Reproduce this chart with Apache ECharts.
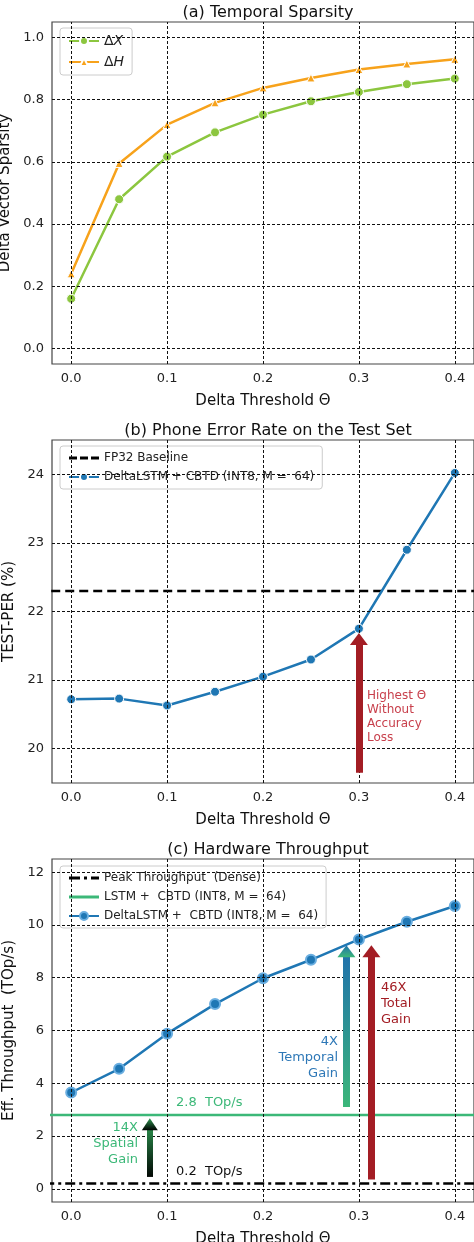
<!DOCTYPE html>
<html><head><meta charset="utf-8">
<script src="https://cdn.jsdelivr.net/npm/echarts@6/dist/echarts.min.js"></script>
<style>html,body{margin:0;padding:0;background:#fff}#c{width:474px;height:1242px}</style>
</head><body><div id="c"></div>
<script>
const thresholds = [0, 0.05, 0.1, 0.15, 0.2, 0.25, 0.3, 0.35, 0.4];
const sparsityX = [0.16, 0.48, 0.617, 0.695, 0.752, 0.795, 0.825, 0.85, 0.868];
const sparsityH = [0.24, 0.595, 0.72, 0.79, 0.838, 0.87, 0.897, 0.915, 0.93];
const testPER = [20.72, 20.73, 20.63, 20.83, 21.05, 21.3, 21.75, 22.9, 24.02];
const throughput = [3.65, 4.55, 5.88, 7.0, 7.98, 8.68, 9.45, 10.12, 10.72];
const fp32Baseline = 22.3;
const lstmThroughput = 2.8;
const peakThroughput = 0.2;

const FONT = 'DejaVu Sans';
const pts = (ys) => thresholds.map((x, i) => [x, ys[i]]);
const flat = (y) => [[-0.05, y], [0.45, y]];

const grids = [
  { left: 52, top: 22, width: 422, height: 342 },
  { left: 52, top: 440, width: 422, height: 343 },
  { left: 52, top: 859, width: 422, height: 343 },
].map((g) => ({ ...g, outerBoundsMode: 'none', containLabel: false, show: true, borderColor: '#444', borderWidth: 1.2, backgroundColor: '#fff' }));

const xAxis = [0, 1, 2].map((i) => ({
  type: 'value', gridIndex: i, min: -0.02, max: 0.42,
  name: 'Delta Threshold Θ', nameLocation: 'middle', nameGap: 30,
  nameTextStyle: { fontSize: 15, color: '#111', fontFamily: FONT },
  axisLine: { show: false }, axisTick: { show: false },
  axisLabel: { fontSize: 13, color: '#222', fontFamily: FONT, formatter: (v) => v.toFixed(1), customValues: [0, 0.1, 0.2, 0.3, 0.4] },
  splitLine: { show: false },
}));
const yCommon = {
  type: 'value', nameLocation: 'middle', nameGap: 34,
  nameTextStyle: { fontSize: 15, color: '#111', fontFamily: FONT },
  axisLine: { show: false }, axisTick: { show: false },
  axisLabel: { fontSize: 13, color: '#222', fontFamily: FONT },
  splitLine: { show: false },
};
const yAxis = [
  { ...yCommon, gridIndex: 0, min: -0.05, max: 1.05, name: 'Delta Vector Sparsity',
    axisLabel: { ...yCommon.axisLabel, customValues: [0, 0.2, 0.4, 0.6, 0.8, 1.0], formatter: (v) => v.toFixed(1) } },
  { ...yCommon, gridIndex: 1, min: 19.5, max: 24.5, name: 'TEST-PER (%)', nameGap: 30,
    axisLabel: { ...yCommon.axisLabel, customValues: [20, 21, 22, 23, 24] } },
  { ...yCommon, gridIndex: 2, min: -0.5, max: 12.5, name: 'Eff. Throughput  (TOp/s)', nameGap: 30,
    axisLabel: { ...yCommon.axisLabel, customValues: [0, 2, 4, 6, 8, 10, 12] } },
];

// dashed grid lines drawn as markLines
const gridLines = (xs, ys) => ({
  silent: true, symbol: 'none', label: { show: false },
  lineStyle: { color: '#111', type: [3, 2], width: 1 },
  data: [...xs.map((x) => ({ xAxis: x })), ...ys.map((y) => ({ yAxis: y }))],
});
const ticks = [0, 0.1, 0.2, 0.3, 0.4];
const grad = (c0, c1) => new echarts.graphic.LinearGradient(0, 1, 0, 0, [{ offset: 0, color: c0 }, { offset: 1, color: c1 }]);
const arrow = (x, y0, y1, lineColor, headColor, w) => [
  { coord: [x, y0], symbol: 'none', lineStyle: { color: lineColor, width: w || 7, type: 'solid' } },
  { coord: [x, y1], symbol: 'triangle', symbolSize: [w ? 16 : 18, 12], itemStyle: { color: headColor } },
];
const arrowLayer = (items) => ({ silent: true, label: { show: false }, data: items });

const series = [
  { type: 'line', xAxisIndex: 0, yAxisIndex: 0, data: [], markLine: gridLines(ticks, [0, 0.2, 0.4, 0.6, 0.8, 1.0]) },
  { name: 'ΔX', type: 'line', xAxisIndex: 0, yAxisIndex: 0, data: pts(sparsityX), color: '#8cc63f',
    lineStyle: { width: 2.5 }, symbol: 'circle', symbolSize: 9, itemStyle: { color: '#8cc63f', borderColor: '#fff', borderWidth: 1 } },
  { name: 'ΔH', type: 'line', xAxisIndex: 0, yAxisIndex: 0, data: pts(sparsityH), color: '#f7a21b',
    lineStyle: { width: 2.5 }, symbol: 'triangle', symbolSize: 8, itemStyle: { color: '#f7a21b', borderColor: '#fff', borderWidth: 1 } },

  { type: 'line', xAxisIndex: 1, yAxisIndex: 1, data: [], markLine: gridLines(ticks, [20, 21, 22, 23, 24]) },
  { name: 'FP32 Baseline', type: 'line', xAxisIndex: 1, yAxisIndex: 1, data: flat(fp32Baseline), symbol: 'none',
    color: '#000', lineStyle: { width: 2.5, type: [9, 5], color: '#000' } },
  { name: 'DeltaLSTM + CBTD (INT8, M =  64)', type: 'line', xAxisIndex: 1, yAxisIndex: 1, data: pts(testPER), color: '#1f77b4',
    lineStyle: { width: 2.5 }, symbol: 'circle', symbolSize: 9, itemStyle: { color: '#1f77b4', borderColor: '#fff', borderWidth: 1 },
    markLine: arrowLayer([arrow(0.3, 19.65, 21.6, '#a31d24', '#a31d24')]) },

  { type: 'line', xAxisIndex: 2, yAxisIndex: 2, data: [], markLine: gridLines(ticks, [0, 2, 4, 6, 8, 10, 12]) },
  { name: 'Peak Throughput  (Dense)', type: 'line', xAxisIndex: 2, yAxisIndex: 2, data: flat(peakThroughput), symbol: 'none',
    color: '#000', lineStyle: { width: 2.5, type: [10, 4, 3, 4], color: '#000' } },
  { name: 'LSTM +  CBTD (INT8, M =  64)', type: 'line', xAxisIndex: 2, yAxisIndex: 2, data: flat(lstmThroughput), symbol: 'none',
    color: '#3cb878', lineStyle: { width: 2.5, color: '#3cb878' } },
  { name: 'DeltaLSTM +  CBTD (INT8, M =  64)', type: 'line', xAxisIndex: 2, yAxisIndex: 2, data: pts(throughput), color: '#1f77b4',
    lineStyle: { width: 2.5 }, symbol: 'circle', symbolSize: 10, itemStyle: { color: '#1f77b4', borderColor: '#6aaee0', borderWidth: 2 },
    markLine: arrowLayer([
      arrow(0.313, 0.35, 9.0, '#a31d24', '#a31d24'),
      arrow(0.287, 3.1, 9.0, grad('#3cb878', '#1f6fae'), '#1f6fae'),
      arrow(0.082, 0.45, 2.45, grad('#000', '#2e9a52'), '#2e9a52', 6),
    ]) },
];

const solidIcon = 'path://M0,0h30v3H0z';
const dashIcon = 'path://M0,0h8v3H0z M11,0h8v3h-8z M22,0h8v3h-8z';
const dashDotIcon = 'path://M0,0h11v3H0z M15,0h3v3h-3z M22,0h8v3h-8z';
const legendBase = {
  orient: 'vertical', left: 60, backgroundColor: 'rgba(255,255,255,0.9)', borderColor: '#ccc', borderWidth: 1, borderRadius: 3,
  padding: [6, 8], itemGap: 7, itemWidth: 30, itemHeight: 10,
  textStyle: { fontSize: 12, color: '#222', fontFamily: FONT },
};
const legend = [
  { ...legendBase, top: 28, data: ['ΔX', 'ΔH'],
    formatter: (n) => '{a|Δ}{b|' + n.slice(1) + '}',
    textStyle: { ...legendBase.textStyle, rich: { a: { fontSize: 14, fontFamily: FONT }, b: { fontSize: 14, fontStyle: 'italic', fontFamily: FONT } } } },
  { ...legendBase, top: 446, data: [{ name: 'FP32 Baseline', icon: dashIcon }, 'DeltaLSTM + CBTD (INT8, M =  64)'] },
  { ...legendBase, top: 866, data: [
    { name: 'Peak Throughput  (Dense)', icon: dashDotIcon },
    { name: 'LSTM +  CBTD (INT8, M =  64)', icon: solidIcon },
    'DeltaLSTM +  CBTD (INT8, M =  64)'] },
];

const txt = (x, y, text, color, align) => ({
  type: 'text', x, y, style: { text, fill: color, font: `13px "${FONT}"`, align: align || 'left', lineHeight: 16 },
});
const titleStyle = { fontSize: 16, fontWeight: 'normal', color: '#111', fontFamily: FONT };

const chart = echarts.init(document.getElementById('c'));
chart.setOption({
  animation: false,
  title: [
    { text: '(a) Temporal Sparsity', left: 263, top: 0, textAlign: 'center', textStyle: titleStyle },
    { text: '(b) Phone Error Rate on the Test Set', left: 263, top: 418, textAlign: 'center', textStyle: titleStyle },
    { text: '(c) Hardware Throughput', left: 263, top: 837, textAlign: 'center', textStyle: titleStyle },
  ],
  grid: grids, xAxis, yAxis, legend, series,
  graphic: [
    { type: 'text', x: 367, y: 689, style: { text: 'Highest Θ\nWithout\nAccuracy\nLoss', fill: '#c8404c', font: `12px "${FONT}"`, lineHeight: 14 } },
    txt(176, 1095, '2.8  TOp/s', '#3cb878'),
    txt(176, 1164, '0.2  TOp/s', '#111'),
    txt(381, 980, '46X\nTotal\nGain', '#a31d24'),
    txt(338, 1034, '4X\nTemporal\nGain', '#2e78b7', 'right'),
    txt(138, 1120, '14X\nSpatial\nGain', '#3cb878', 'right'),
  ],
});
</script></body></html>
